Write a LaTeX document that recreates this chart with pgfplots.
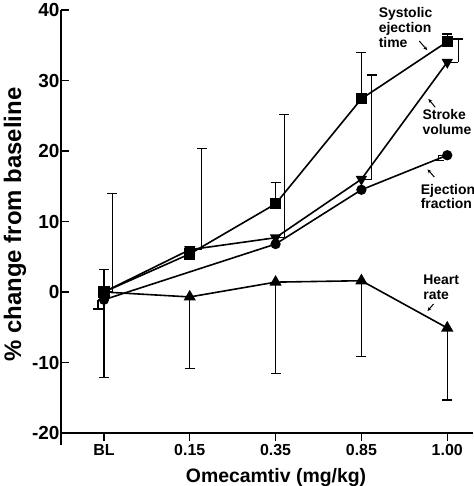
\documentclass[border=0pt]{standalone}
\usepackage{fontspec}
\setmainfont{Liberation Sans}
\usepackage{pgfplots}
\pgfplotsset{compat=1.18}
\usetikzlibrary{arrows.meta}

\begin{document}
\begin{tikzpicture}
\begin{axis}[
  at={(0,0)}, anchor=south west,
  scale only axis, width=412bp, height=423bp,
  xmin=-0.5, xmax=4.3, ymin=-20, ymax=40,
  axis x line*=bottom, axis y line*=left,
  axis line style={line width=1.6bp, -},
  xtick={0,1,2,3,4}, xticklabels={BL,0.15,0.35,0.85,1.00},
  ytick={-20,-10,0,10,20,30,40},
  major tick length=8bp,
  xtick align=outside, ytick align=inside,
  tick style={line width=1.4bp, black},
  /pgf/number format/assume math mode=true,
  x tick label style={font=\fontsize{16}{16}\selectfont\bfseries},
  y tick label style={font=\fontsize{19}{19}\selectfont\bfseries, xshift=2bp},
  xlabel={Omecamtiv (mg/kg)},
  ylabel={\% change from baseline},
  xlabel style={at={(axis description cs:0.522,0)}, anchor=base, yshift=-49bp,
    font=\fontsize{19.5}{20}\selectfont\bfseries},
  ylabel style={at={(axis description cs:-0.097,0.493)}, anchor=base,
    font=\fontsize{24}{24}\selectfont\bfseries},
  clip=false,
  every axis plot/.append style={black, line width=1.6bp},
  errup/.style={error bars/.cd, y dir=plus, y explicit,
    error bar style={draw=black, solid, line width=1.3bp},
    error mark options={rotate=90, mark size=5bp, draw=black, solid, line width=1.3bp}},
  errdown/.style={error bars/.cd, y dir=minus, y explicit,
    error bar style={draw=black, solid, line width=1.3bp},
    error mark options={rotate=90, mark size=5bp, draw=black, solid, line width=1.3bp}},
]
% stroke volume error bars, offset to the right of each dose
\addplot[mark=none, line width=1.3bp, unbounded coords=jump] coordinates {
  (0,0) (0.10,0) (nan,nan)
  (1,6.0) (1.14,6.0) (nan,nan)
  (2,7.7) (2.10,7.7) (nan,nan)
  (3,16.0) (3.12,16.0) (nan,nan)
  (4,32.6) (4.13,32.6)};
\addplot[draw=none, mark=none, errup] coordinates {
  (0.10,0) +- (0,14.0)
  (1.14,6.0) +- (0,14.4)
  (2.10,7.7) +- (0,17.5)
  (3.12,16.0) +- (0,14.8)
  (4.13,32.6) +- (0,3.3)};
% ejection fraction error bars, offset to the left
\addplot[mark=none, line width=1.3bp, unbounded coords=jump] coordinates {
  (0,-1.1) (-0.07,-1.1) (nan,nan)
  (4,19.4) (3.90,19.4)};
\addplot[draw=none, mark=none, errdown] coordinates {
  (-0.07,-1.1) +- (0,1.3)
  (3.90,19.4) +- (0,0.7)};
% heart rate
\addplot[mark=triangle*, mark size=5.5bp, mark options={solid}, errdown] coordinates {
  (0,0) +- (0,12.1)
  (1,-0.7) +- (0,10.2)
  (2,1.4) +- (0,13.0)
  (3,1.6) +- (0,10.7)
  (4,-5.1) +- (0,10.2)};
% ejection fraction
\addplot[mark=*, mark size=4.3bp] coordinates {
  (0,-1.1) (2,6.8) (3,14.5) (4,19.4)};
% stroke volume
\addplot[mark=triangle*, mark size=5bp, mark options={rotate=180}] coordinates {
  (0,0) (1,6.0) (2,7.7) (3,16.0) (4,32.6)};
% systolic ejection time
\addplot[mark=square*, mark size=4.8bp, errup] coordinates {
  (0,0) +- (0,3.2)
  (1,5.4) +- (0,1.0)
  (2,12.5) +- (0,3.0)
  (3,27.4) +- (0,6.6)
  (4,35.5) +- (0,1.1)};

% series labels
\begin{scope}[every node/.style={anchor=base west, inner sep=0pt,
    font=\fontsize{14}{15}\selectfont\bfseries}]
  \node at (axis cs:3.20,38.9) {Systolic};
  \node at (axis cs:3.20,36.8) {ejection};
  \node at (axis cs:3.20,34.7) {time};
  \node at (axis cs:3.71,24.4) {Stroke};
  \node at (axis cs:3.71,22.3) {volume};
  \node at (axis cs:3.69,13.9) {Ejection};
  \node at (axis cs:3.69,11.8) {fraction};
  \node at (axis cs:3.72,1.1) {Heart};
  \node at (axis cs:3.72,-1.0) {rate};
\end{scope}
\begin{scope}[line width=1bp, -{Stealth[length=4bp,width=3.5bp]}]
  \draw (axis cs:3.674,35.6) -- (axis cs:3.767,34.3);
  \draw (axis cs:3.86,26.2) -- (axis cs:3.78,27.4);
  \draw (axis cs:3.85,16.3) -- (axis cs:3.77,17.4);
  \draw (axis cs:3.84,-1.7) -- (axis cs:3.77,-2.7);
\end{scope}
% y axis line runs a little below the x axis
\draw[line width=1.6bp] (rel axis cs:0,0) -- ([yshift=-12bp]rel axis cs:0,0);
\end{axis}
\pgfresetboundingbox
\path[use as bounding box] (-61bp,-53bp) rectangle (413bp,433bp);
\end{tikzpicture}
\end{document}
